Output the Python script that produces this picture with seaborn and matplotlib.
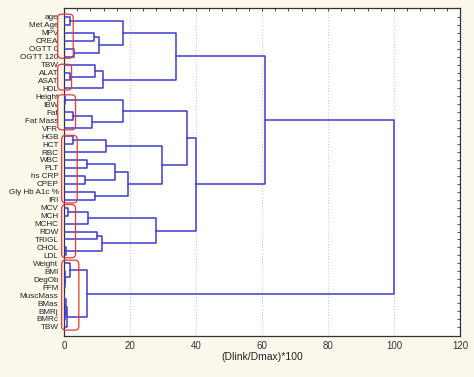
import matplotlib
matplotlib.use("Agg")
import matplotlib.pyplot as plt
import numpy as np
import pandas as pd
import seaborn as sns
from matplotlib.patches import FancyBboxPatch
from matplotlib.ticker import MultipleLocator


# Leaf labels, top to bottom
labels = [
    "age", "Met Age", "MPV", "CREA", "OGTT 0", "OGTT 120",
    "TBW", "ALAT", "ASAT", "HDL",
    "Height", "IBW", "Fat", "Fat Mass", "VFR",
    "HGB", "HCT", "RBC", "WBC", "PLT", "hs CRP", "CPEP", "Gly Hb A1c %", "IRI",
    "MCV", "MCH", "MCHC", "RDW", "TRIGL", "CHOL", "LDL",
    "Weight", "BMI", "DegOb", "FFM", "MuscMass", "BMas", "BMRj", "BMRc", "TBW",
]

# Linkage: index < 40 is a leaf, 40 + k is the cluster made in row k
link_left = [0, 2, 4, 41, 40, 7, 6, 46, 44, 10, 12, 50, 49, 15, 53, 18, 20, 55,
             22, 57, 54, 52, 24, 62, 27, 29, 64, 63, 61, 48, 33, 32, 31, 35, 37,
             73, 75, 72, 69]
link_right = [1, 3, 5, 42, 43, 8, 45, 9, 47, 11, 13, 14, 51, 16, 17, 19, 21, 56,
              23, 58, 59, 60, 25, 26, 28, 30, 65, 66, 67, 68, 34, 70, 71, 36, 38,
              74, 39, 76, 77]
link_height = [1.8, 9.2, 3.1, 10.7, 18.0, 1.8, 9.4, 11.9, 34.0, 0.3, 2.8, 8.4,
               18.0, 2.8, 12.6, 7.1, 6.4, 15.5, 9.4, 19.5, 29.6, 37.4, 1.3, 7.4,
               9.9, 0.5, 11.5, 27.8, 40.0, 61.0, 0.2, 0.4, 1.8, 0.1, 0.4, 0.6,
               0.8, 6.9, 100.0]

# Highlighted leaf groups (first leaf, last leaf)
group_first = [0, 6, 10, 15, 24, 31]
group_last = [5, 9, 14, 23, 30, 39]


def dendrogram_segments(n):
    pos = {i: float(i) for i in range(n)}
    hgt = {i: 0.0 for i in range(n)}
    rows = []
    for k, (a, b, h) in enumerate(zip(link_left, link_right, link_height)):
        xs = [hgt[a], h, h, hgt[b]]
        ys = [pos[a], pos[a], pos[b], pos[b]]
        for j, (x, y) in enumerate(zip(xs, ys)):
            rows.append({"link": k, "step": j, "dist": x, "leaf": y})
        pos[n + k] = (pos[a] + pos[b]) / 2
        hgt[n + k] = h
    return pd.DataFrame(rows)


sns.set_style("white")
plt.rcParams["font.family"] = ["Liberation Sans", "DejaVu Sans"]

fig = plt.figure(figsize=(4.74, 3.77), dpi=100, facecolor="#fcf8ec")
ax = fig.add_axes([0.135, 0.109, 0.8354, 0.870])
ax.set_facecolor("white")

segs = dendrogram_segments(len(labels))
sns.lineplot(
    data=segs, x="dist", y="leaf", units="link", estimator=None, sort=False,
    color="#3c3ccc", linewidth=1.1, ax=ax, legend=False, zorder=3,
)

ax.set_xlim(0, 120)
ax.set_ylim(len(labels) - 1 + 1.13, -1.13)
ax.xaxis.set_major_locator(MultipleLocator(20))
ax.xaxis.set_minor_locator(MultipleLocator(4))
ax.set_yticks(range(len(labels)))
ax.set_yticklabels(labels)
ax.tick_params(axis="both", which="both", direction="in", top=True, right=True,
               length=2.2, width=0.6, color="#333333")
ax.tick_params(axis="x", which="major", labelsize=7, pad=4, labelcolor="#333333")
ax.tick_params(axis="y", which="major", labelsize=5.9, pad=4, labelcolor="#222222")
ax.xaxis.grid(True, which="major", color="#cfcfcf", linestyle=":", linewidth=0.8)
ax.yaxis.grid(False)
for sp in ax.spines.values():
    sp.set_color("#333333")
    sp.set_linewidth(0.9)

ax.set_ylabel("")
ax.set_xlabel("(Dlink/Dmax)*100", fontsize=7.5, color="#222222")
ax.xaxis.set_label_coords(0.5, -0.048)

# Red rounded frames around the leaf groups
box_x = [(-1.9, 2.8), (-1.9, 2.3), (-1.9, 3.5), (-0.7, 4.0), (-0.7, 3.5), (-0.7, 4.5)]
box_pad = [(0.34, 0.2), (0.05, 0.2), (0.2, 0.2), (0.1, 0.4), (0.4, 0.3), (0.4, 0.4)]
for (x0, x1), (p0, p1), a, b in zip(box_x, box_pad, group_first, group_last):
    y0 = a - p0
    y1 = b + p1
    patch = FancyBboxPatch(
        (x0, y0), x1 - x0, y1 - y0,
        boxstyle="round,pad=0,rounding_size=1.2", mutation_aspect=0.42,
        fill=False, edgecolor="#e8392f", linewidth=0.9, clip_on=False, zorder=4,
    )
    ax.add_patch(patch)

fig.savefig("out.png", dpi=100, facecolor=fig.get_facecolor())
